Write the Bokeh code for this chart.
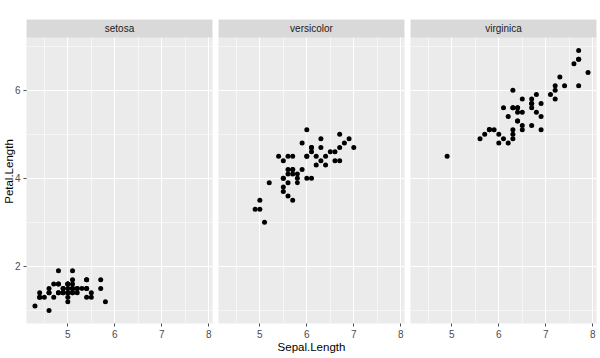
from bokeh.plotting import figure
from bokeh.layouts import row
from bokeh.models import FixedTicker, BoxAnnotation, Label, Range1d, Title
from bokeh.embed import file_html
from bokeh.resources import INLINE

species = ["setosa", "versicolor", "virginica"]

setosa_sepal = [5.1,4.9,4.7,4.6,5.0,5.4,4.6,5.0,4.4,4.9,5.4,4.8,4.8,4.3,5.8,5.7,5.4,5.1,5.7,5.1,
                5.4,5.1,4.6,5.1,4.8,5.0,5.0,5.2,5.2,4.7,4.8,5.4,5.2,5.5,4.9,5.0,5.5,4.9,4.4,5.1,
                5.0,4.5,4.4,5.0,5.1,4.8,5.1,4.6,5.3,5.0]
setosa_petal = [1.4,1.4,1.3,1.5,1.4,1.7,1.4,1.5,1.4,1.5,1.5,1.6,1.4,1.1,1.2,1.5,1.3,1.4,1.7,1.5,
                1.7,1.5,1.0,1.7,1.9,1.6,1.6,1.5,1.4,1.6,1.6,1.5,1.5,1.4,1.5,1.2,1.3,1.4,1.3,1.5,
                1.3,1.3,1.3,1.6,1.9,1.4,1.6,1.4,1.5,1.4]
versicolor_sepal = [7.0,6.4,6.9,5.5,6.5,5.7,6.3,4.9,6.6,5.2,5.0,5.9,6.0,6.1,5.6,6.7,5.6,5.8,6.2,5.6,
                    5.9,6.1,6.3,6.1,6.4,6.6,6.8,6.7,6.0,5.7,5.5,5.5,5.8,6.0,5.4,6.0,6.7,6.3,5.6,5.5,
                    5.5,6.1,5.8,5.0,5.6,5.7,5.7,6.2,5.1,5.7]
versicolor_petal = [4.7,4.5,4.9,4.0,4.6,4.5,4.7,3.3,4.6,3.9,3.5,4.2,4.0,4.7,3.6,4.4,4.5,4.1,4.5,3.9,
                    4.8,4.0,4.9,4.7,4.3,4.4,4.8,5.0,4.5,3.5,3.8,3.7,3.9,5.1,4.5,4.5,4.7,4.4,4.1,4.0,
                    4.4,4.6,4.0,3.3,4.2,4.2,4.2,4.3,3.0,4.1]
virginica_sepal = [6.3,5.8,7.1,6.3,6.5,7.6,4.9,7.3,6.7,7.2,6.5,6.4,6.8,5.7,5.8,6.4,6.5,7.7,7.7,6.0,
                   6.9,5.6,7.7,6.3,6.7,7.2,6.2,6.1,6.4,7.2,7.4,7.9,6.4,6.3,6.1,7.7,6.3,6.4,6.0,6.9,
                   6.7,6.9,5.8,6.8,6.7,6.7,6.3,6.5,6.2,5.9]
virginica_petal = [6.0,5.1,5.9,5.6,5.8,6.6,4.5,6.3,5.8,6.1,5.1,5.3,5.5,5.0,5.1,5.3,5.5,6.7,6.9,5.0,
                   5.7,4.9,6.7,4.9,5.7,6.0,4.8,4.9,5.6,5.8,6.1,6.4,5.6,5.1,5.6,6.1,5.6,5.5,4.8,5.4,
                   5.6,5.1,5.1,5.9,5.7,5.2,5.0,5.2,5.4,5.1]

x_ticks = [5, 6, 7, 8]
x_minor = [4.5, 5.5, 6.5, 7.5]
y_ticks = [2, 4, 6]
y_minor = [1, 3, 5, 7]
x_title = "Sepal.Length"
y_title = "Petal.Length"

data = [(setosa_sepal, setosa_petal), (versicolor_sepal, versicolor_petal), (virginica_sepal, virginica_petal)]

# ggplot-like expanded ranges
all_x = setosa_sepal + versicolor_sepal + virginica_sepal
all_y = setosa_petal + versicolor_petal + virginica_petal
xr = max(all_x) - min(all_x)
yr = max(all_y) - min(all_y)
x0, x1 = min(all_x) - 0.05 * xr, max(all_x) + 0.05 * xr
y0, y1 = min(all_y) - 0.05 * yr, max(all_y) + 0.05 * yr

FRAME_W = 186
PANEL_H = 286
STRIP_H = 18
px_per_unit = PANEL_H / (y1 - y0)
y_top = y1 + STRIP_H / px_per_unit

FONT = "Liberation Sans"
figs = []
for i, (name, (xs, ys)) in enumerate(zip(species, data)):
    left = 26 if i == 0 else 3
    right = 4 if i == 2 else 3
    p = figure(frame_width=FRAME_W, frame_height=PANEL_H + STRIP_H,
               min_border_left=left, min_border_right=right,
               min_border_top=19, min_border_bottom=35,
               x_range=Range1d(x0, x1), y_range=Range1d(y0, y_top),
               output_backend="svg", toolbar_location=None)
    p.background_fill_color = "#EBEBEB"
    p.border_fill_color = "white"
    p.outline_line_color = None

    p.xaxis.ticker = FixedTicker(ticks=x_ticks, minor_ticks=x_minor)
    p.yaxis.ticker = FixedTicker(ticks=y_ticks, minor_ticks=y_minor)
    for g in (p.xgrid, p.ygrid):
        g.grid_line_color = "white"
        g.grid_line_width = 1.1
        g.minor_grid_line_color = "white"
        g.minor_grid_line_width = 0.55
    for ax in (p.xaxis, p.yaxis):
        ax.axis_line_color = None
        ax.major_tick_line_color = "#4D4D4D"
        ax.major_tick_line_width = 1
        ax.major_tick_out = 3
        ax.major_tick_in = 0
        ax.minor_tick_line_color = None
        ax.major_label_text_color = "#4D4D4D"
        ax.major_label_text_font = FONT
        ax.major_label_text_font_size = "10px"
        ax.major_label_standoff = 2
        ax.axis_label_text_font = FONT
        ax.axis_label_text_font_size = "11.5px"
        ax.axis_label_text_font_style = "normal"
        ax.axis_label_text_color = "black"
        ax.axis_label_standoff = 0
    if i == 1:
        p.xaxis.axis_label = x_title
    if i == 0:
        t = Title(text=y_title, align="center", text_font=FONT, text_font_size="11.5px",
                  text_font_style="normal", text_color="black", standoff=-6, offset=0)
        p.add_layout(t, "left")
    else:
        p.yaxis.visible = False

    p.scatter(xs, ys, size=5, color="black", line_color=None)

    strip = BoxAnnotation(bottom=y1, fill_color="#D9D9D9", fill_alpha=1.0,
                          line_color=None, level="overlay")
    p.add_layout(strip)
    lab = Label(x=(x0 + x1) / 2, y=(y1 + y_top) / 2, text=name,
                text_align="center", text_baseline="middle",
                text_font=FONT, text_font_size="10px", text_color="#1A1A1A",
                level="overlay")
    p.add_layout(lab)
    figs.append(p)

layout = row(*figs, spacing=0)
open("out.html", "w").write(file_html(layout, INLINE))
